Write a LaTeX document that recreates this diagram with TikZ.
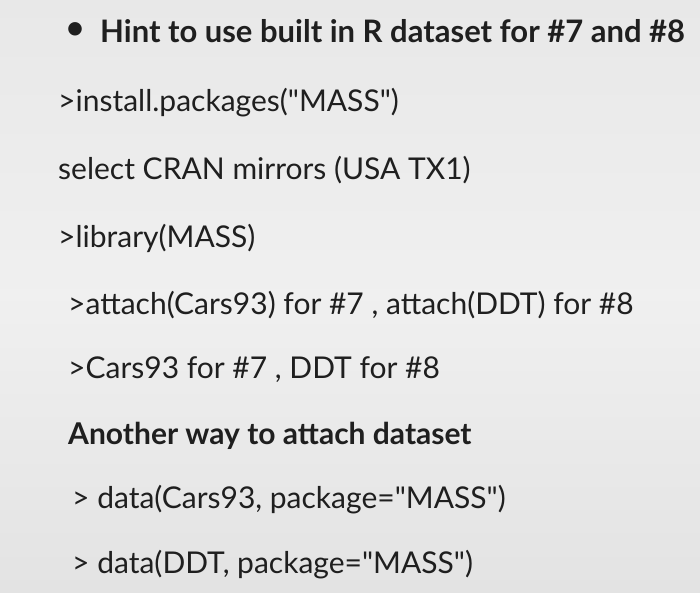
\documentclass[tikz,border=0pt]{standalone}
\usepackage{fontspec}
\setmainfont{Lato}[Ligatures=TeXOff]
\begin{document}
\begin{tikzpicture}[x=1pt,y=-1pt,
  txt/.style={anchor=west,inner sep=0pt,font=\fontsize{30}{33}\selectfont,text=black!88},
  bold/.style={txt,font=\fontsize{31}{34}\selectfont\bfseries}]
\shade[top color=gray!18,bottom color=gray!22,middle color=gray!12] (0,0) rectangle (700,592);
\useasboundingbox (0,0) rectangle (700,592);
\node[bold] (b) at (66,31) {\textbullet};
\node[bold] (h) at (100,31) {Hint to use built in R dataset for \#7 and \#8};
\node[txt] (l1) at (58,103) {>install.packages("MASS")};
\node[txt] (l2) at (58,170) {select CRAN mirrors (USA TX1)};
\node[txt] (l3) at (58,238) {>library(MASS)};
\node[txt] (l4) at (68,305) {>attach(Cars93)\ for \#7 ,\ attach(DDT) for \#8};
\node[txt] (l5) at (68,370) {>Cars93 for \#7 , DDT for \#8};
\node[txt,font=\fontsize{30}{33}\selectfont\bfseries] (l6) at (68,436) {Another way to attach dataset};
\node[txt] (l7) at (72,500) {> data(Cars93, package="MASS")};
\node[txt] (l8) at (72,565) {> data(DDT, package="MASS")};
\end{tikzpicture}
\end{document}
